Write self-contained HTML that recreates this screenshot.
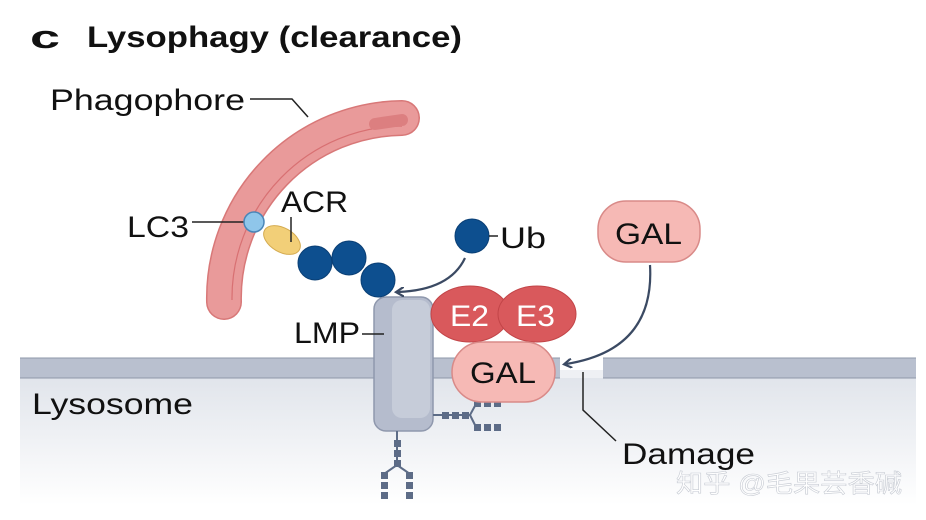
<!DOCTYPE html>
<html><head><meta charset="utf-8"><style>
html,body{margin:0;padding:0;background:#fff;}
svg{display:block;font-family:"Liberation Sans",Arial,sans-serif;}
</style></head><body>
<svg width="926" height="520" viewBox="0 0 926 520">
<defs>
<linearGradient id="lys" x1="0" y1="0" x2="0" y2="1">
<stop offset="0" stop-color="#dfe3ea"/><stop offset="1" stop-color="#ffffff"/>
</linearGradient>
<marker id="ah" markerWidth="10" markerHeight="10" refX="6" refY="5" orient="auto" markerUnits="userSpaceOnUse">
<path d="M0,0 L8,5 L0,10" fill="none" stroke="#3b4a63" stroke-width="2.2"/>
</marker>
</defs>
<text x="30" y="48" font-size="32" font-weight="bold" fill="#111" textLength="30" lengthAdjust="spacingAndGlyphs">c</text>
<text x="87" y="47" font-size="30" font-weight="bold" fill="#111" textLength="375" lengthAdjust="spacingAndGlyphs">Lysophagy (clearance)</text>

<!-- lysosome -->
<rect x="20" y="370" width="896" height="135" fill="url(#lys)"/>
<rect x="20" y="358" width="540" height="20" fill="#b9c0cf"/>
<rect x="603" y="358" width="313" height="20" fill="#b9c0cf"/>
<line x1="20" y1="358" x2="560" y2="358" stroke="#8e97aa" stroke-width="1"/>
<line x1="20" y1="378" x2="560" y2="378" stroke="#8e97aa" stroke-width="1"/>
<line x1="603" y1="358" x2="916" y2="358" stroke="#8e97aa" stroke-width="1"/>
<line x1="603" y1="378" x2="916" y2="378" stroke="#8e97aa" stroke-width="1"/>
<rect x="560" y="370" width="43" height="8" fill="#eef0f4"/>

<!-- phagophore -->
<path d="M224,302 A180,180 0 0 1 402,118" fill="none" stroke="#d87878" stroke-width="36" stroke-linecap="round"/>
<path d="M224,302 A180,180 0 0 1 402,118" fill="none" stroke="#e99a9a" stroke-width="33" stroke-linecap="round"/>
<path d="M232,300 A172,172 0 0 1 402,126" fill="none" stroke="#d87072" stroke-width="1.2"/>
<path d="M375,124 L402,120" stroke="#dc7f80" stroke-width="12" stroke-linecap="round"/>

<polyline points="250,99 292,99 308,117" fill="none" stroke="#222" stroke-width="1.5"/>
<text x="50" y="110" font-size="30" fill="#111" textLength="195" lengthAdjust="spacingAndGlyphs">Phagophore</text>

<!-- LC3 / ACR -->
<line x1="192" y1="222" x2="244" y2="222" stroke="#222" stroke-width="1.5"/>
<text x="127" y="237" font-size="30" fill="#111" textLength="62" lengthAdjust="spacingAndGlyphs">LC3</text>
<ellipse cx="282" cy="240" rx="20" ry="12" transform="rotate(30 282 240)" fill="#f2cf78" stroke="#d4ab50"/>
<circle cx="254" cy="222" r="10" fill="#8fc6ea" stroke="#4a86b8" stroke-width="1.5"/>
<line x1="291" y1="217" x2="291" y2="242" stroke="#222" stroke-width="1.5"/>
<text x="281" y="212" font-size="30" fill="#111" textLength="67" lengthAdjust="spacingAndGlyphs">ACR</text>

<!-- LMP -->
<rect x="374" y="297" width="59" height="134" rx="12" fill="#b5bccd" stroke="#8f98ad" stroke-width="1.5"/>
<rect x="392" y="300" width="38" height="118" rx="10" fill="#c6ccd9"/>
<line x1="362" y1="334" x2="384" y2="334" stroke="#222" stroke-width="1.5"/>
<text x="294" y="343" font-size="30" fill="#111" textLength="66" lengthAdjust="spacingAndGlyphs">LMP</text>
<!-- glycans -->
<g fill="#5d6c87">
<rect x="442" y="412" width="7" height="7"/><rect x="452" y="412" width="7" height="7"/><rect x="462" y="412" width="7" height="7"/>
<rect x="474" y="400" width="7" height="7"/><rect x="484" y="400" width="7" height="7"/><rect x="494" y="400" width="7" height="7"/>
<rect x="474" y="424" width="7" height="7"/><rect x="484" y="424" width="7" height="7"/><rect x="494" y="424" width="7" height="7"/>
<rect x="394" y="440" width="7" height="7"/><rect x="394" y="450" width="7" height="7"/><rect x="394" y="460" width="7" height="7"/>
<rect x="381" y="472" width="7" height="7"/><rect x="381" y="482" width="7" height="7"/><rect x="381" y="492" width="7" height="7"/>
<rect x="406" y="472" width="7" height="7"/><rect x="406" y="482" width="7" height="7"/><rect x="406" y="492" width="7" height="7"/>
</g>
<polyline points="433,415 470,415 476,404" fill="none" stroke="#5d6c87" stroke-width="2"/>
<line x1="470" y1="415" x2="476" y2="427" stroke="#5d6c87" stroke-width="2"/>
<polyline points="397,431 397,465 384,474" fill="none" stroke="#5d6c87" stroke-width="2"/>
<line x1="397" y1="465" x2="410" y2="474" stroke="#5d6c87" stroke-width="2"/>

<!-- Ub chain -->
<g fill="#0d4f8f" stroke="#0a3f75" stroke-width="1">
<circle cx="315" cy="263" r="17"/><circle cx="349" cy="258" r="17"/><circle cx="378" cy="280" r="17"/>
<circle cx="472" cy="236" r="17"/>
</g>
<line x1="489" y1="236" x2="498" y2="236" stroke="#222" stroke-width="1.5"/>
<text x="500" y="248" font-size="30" fill="#111" textLength="46" lengthAdjust="spacingAndGlyphs">Ub</text>
<path d="M465,258 Q450,290 398,292" fill="none" stroke="#3b4a63" stroke-width="2.2" marker-end="url(#ah)"/>

<!-- E2 E3 -->
<ellipse cx="470" cy="314" rx="39" ry="28" fill="#d9595c" stroke="#c24548"/>
<ellipse cx="537" cy="314" rx="39" ry="28" fill="#d9595c" stroke="#c24548"/>
<text x="450" y="326" font-size="30" fill="#fff" textLength="39" lengthAdjust="spacingAndGlyphs">E2</text>
<text x="516" y="326" font-size="30" fill="#fff" textLength="39" lengthAdjust="spacingAndGlyphs">E3</text>

<!-- GAL on membrane -->
<rect x="452" y="342" width="103" height="60" rx="30" fill="#f6b9b5" stroke="#d98a88" stroke-width="1.5"/>
<text x="470" y="383" font-size="30" fill="#111" textLength="66" lengthAdjust="spacingAndGlyphs">GAL</text>

<!-- GAL free -->
<rect x="598" y="201" width="102" height="61" rx="28" fill="#f6b9b5" stroke="#d98a88" stroke-width="1.5"/>
<text x="615" y="244" font-size="30" fill="#111" textLength="67" lengthAdjust="spacingAndGlyphs">GAL</text>
<path d="M650,265 Q655,350 566,364" fill="none" stroke="#3b4a63" stroke-width="2.2" marker-end="url(#ah)"/>

<!-- Damage -->
<polyline points="583,372 583,410 616,441" fill="none" stroke="#222" stroke-width="1.5"/>
<text x="622" y="464" font-size="30" fill="#111" textLength="133" lengthAdjust="spacingAndGlyphs">Damage</text>

<text x="32" y="414" font-size="30" fill="#111" textLength="161" lengthAdjust="spacingAndGlyphs">Lysosome</text>

<text x="676" y="492" font-size="25" fill="#ffffff" stroke="#c8ccd4" stroke-width="0.6" font-family="'Liberation Sans','Noto Sans CJK SC',sans-serif" textLength="226" lengthAdjust="spacingAndGlyphs">知乎 @毛果芸香碱</text>
</svg>
</body></html>
